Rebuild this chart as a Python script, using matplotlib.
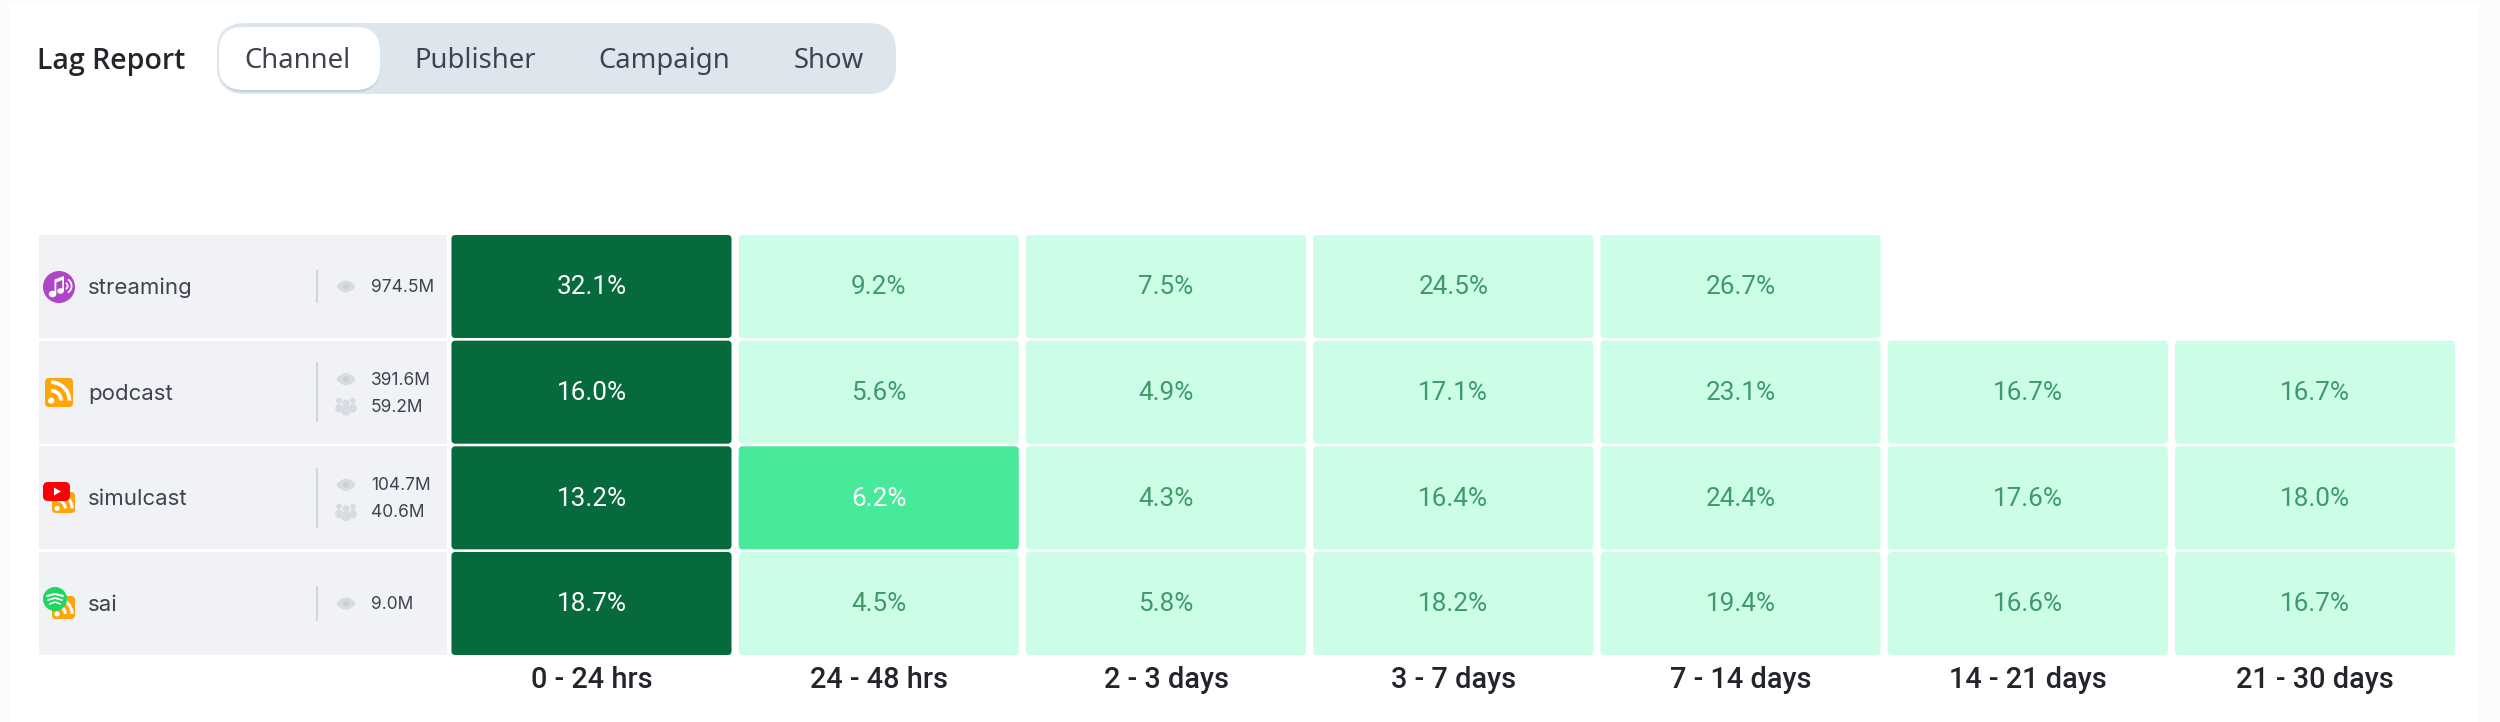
import numpy as np
import matplotlib
matplotlib.use("Agg")
import matplotlib.pyplot as plt
from matplotlib.patches import Circle, Ellipse, FancyBboxPatch, PathPatch, Polygon, Rectangle, Wedge
from matplotlib.path import Path

W, H = 2500, 722

# data
channels = ["streaming", "podcast", "simulcast", "sai"]
buckets = ["0 - 24 hrs", "24 - 48 hrs", "2 - 3 days", "3 - 7 days", "7 - 14 days", "14 - 21 days", "21 - 30 days"]
streaming_lag = [32.1, 9.2, 7.5, 24.5, 26.7, np.nan, np.nan]
podcast_lag = [16.0, 5.6, 4.9, 17.1, 23.1, 16.7, 16.7]
simulcast_lag = [13.2, 6.2, 4.3, 16.4, 24.4, 17.6, 18.0]
sai_lag = [18.7, 4.5, 5.8, 18.2, 19.4, 16.6, 16.7]
# 2 = dark, 1 = mid, 0 = pale
streaming_tier = [2, 0, 0, 0, 0, 0, 0]
podcast_tier = [2, 0, 0, 0, 0, 0, 0]
simulcast_tier = [2, 1, 0, 0, 0, 0, 0]
sai_tier = [2, 0, 0, 0, 0, 0, 0]
views = ["974.5M", "391.6M", "104.7M", "9.0M"]
reach = [None, "59.2M", "40.6M", None]
tabs = ["Channel", "Publisher", "Campaign", "Show"]

lag = np.array([streaming_lag, podcast_lag, simulcast_lag, sai_lag])
tiers = np.array([streaming_tier, podcast_tier, simulcast_tier, sai_tier])

TIER_BG = {2: "#066a3c", 1: "#47e99a", 0: "#ccfde6"}
TIER_FG = {2: "#ffffff", 1: "#ffffff", 0: "#3f9a6a"}
ICON_GRAY = "#d6dce2"
TEXT = "#3d4350"

fig = plt.figure(figsize=(W / 100, H / 100), dpi=100, facecolor="#fcfcfc")

# pixel space for everything around the heatmap
bg = fig.add_axes([0, 0, 1, 1])
bg.set_xlim(0, W)
bg.set_ylim(H, 0)
bg.axis("off")
bg.add_patch(Rectangle((10, 3), 2468, 719, fc="white", ec="none"))

# heatmap axes, one data unit per cell
PITCH_X, PITCH_Y = 287.25, 105.67
left = 591.5 - 0.5 * PITCH_X
top = 286.5 - 0.5 * PITCH_Y
ax = fig.add_axes([left / W, 1 - (top + 4 * PITCH_Y) / H, 7 * PITCH_X / W, 4 * PITCH_Y / H])
ax.set_xlim(-0.5, 6.5)
ax.set_ylim(3.5, -0.5)
ax.patch.set_alpha(0)
for s in ax.spines.values():
    s.set_visible(False)
ax.set_yticks([])
ax.set_xticks(range(len(buckets)))
ax.set_xticklabels(buckets, family="Roboto", weight="medium", fontsize=20.8, color="#22252a")
ax.tick_params(axis="x", length=0, pad=7)

CELL = 0.975
for i in range(lag.shape[0]):
    for j in range(lag.shape[1]):
        if np.isnan(lag[i, j]):
            continue
        ax.add_patch(FancyBboxPatch(
            (j - CELL / 2, i - CELL / 2), CELL, CELL,
            boxstyle=f"round,pad=0,rounding_size={4 / PITCH_X}",
            mutation_aspect=PITCH_X / PITCH_Y,
            fc=TIER_BG[tiers[i, j]], ec="none"))
        ax.text(j, i + 0.008, f"{lag[i, j]:.1f}%", ha="center", va="center",
                family="Roboto", fontsize=18.8, color=TIER_FG[tiers[i, j]])

# header
bg.text(37, 61, "Lag Report", family="Open Sans", weight="semibold", fontsize=20.5, color="#23262b", va="center")
bg.add_patch(FancyBboxPatch((217, 23), 679, 71, boxstyle="round,pad=0,rounding_size=28", fc="#dde6ed", ec="none"))
bg.add_patch(FancyBboxPatch((220, 30), 160, 62, boxstyle="round,pad=0,rounding_size=24", fc="#c3cfd8", ec="none"))
bg.add_patch(FancyBboxPatch((219, 27), 161, 63, boxstyle="round,pad=0,rounding_size=24", fc="white", ec="none"))
for name, cx in zip(tabs, [298, 475, 664, 829]):
    bg.text(cx, 61, name, family="Noto Sans", fontsize=19.8, color=TEXT, ha="center", va="center")


def rss(x0, y0, x1, y1, z=3):
    bg.add_patch(FancyBboxPatch((x0, y0), x1 - x0, y1 - y0, boxstyle="round,pad=0,rounding_size=4",
                                fc="#ffa50a", ec="none", zorder=z))
    s = x1 - x0
    ox, oy = x0 + 0.22 * s, y1 - 0.22 * (y1 - y0)
    bg.add_patch(Circle((ox, oy), 0.11 * s, fc="white", ec="none", zorder=z + 0.1))
    # y axis is inverted, so the top right quarter is 270-360
    for r in (0.42, 0.72):
        bg.add_patch(Wedge((ox, oy), r * s, 270, 360, width=0.13 * s, fc="white", ec="none", zorder=z + 0.1))


def eye(cx, cy):
    w, h = 9.5, 6
    verts = [(cx - w, cy), (cx - 4, cy - h * 1.35), (cx + 4, cy - h * 1.35), (cx + w, cy),
             (cx + 4, cy + h * 1.35), (cx - 4, cy + h * 1.35), (cx - w, cy)]
    codes = [Path.MOVETO, Path.CURVE4, Path.CURVE4, Path.CURVE4, Path.CURVE4, Path.CURVE4, Path.CURVE4]
    bg.add_patch(PathPatch(Path(verts, codes), fc=ICON_GRAY, ec="none", zorder=3))
    bg.add_patch(Circle((cx, cy), 2.8, fc="#c9d0d8", ec="none", zorder=3.1))


def people(cx, cy):
    for dx in (-7, 7):
        bg.add_patch(Circle((cx + dx, cy - 5.5), 2.8, fc=ICON_GRAY, ec="none", zorder=3))
        bg.add_patch(Ellipse((cx + dx, cy + 2), 7.5, 9, fc=ICON_GRAY, ec="none", zorder=3))
    bg.add_patch(Circle((cx, cy - 3), 3.6, fc=ICON_GRAY, ec="none", zorder=3))
    bg.add_patch(Ellipse((cx, cy + 4.5), 10, 10, fc=ICON_GRAY, ec="none", zorder=3))


# row headers
PANEL_X0, PANEL_X1 = 39, 447
sep_spans = [(270, 303), (362, 422), (468, 528), (586, 621)]
for i, channel in enumerate(channels):
    cy = 286.5 + i * PITCH_Y
    bg.add_patch(Rectangle((PANEL_X0, cy - 51.5), PANEL_X1 - PANEL_X0, 103, fc="#f1f2f5", ec="none"))
    bg.text(88, cy + 1.5, channel, family="Inter", fontsize=16, color=TEXT, va="center")
    bg.plot([317, 317], sep_spans[i], color="#d3d6da", lw=1.5, solid_capstyle="butt", zorder=3)
    if reach[i] is None:
        eye(346, cy)
        bg.text(371, cy + 1, views[i], family="Inter", fontsize=12.5, color=TEXT, va="center")
    else:
        eye(346, cy - 13)
        people(346, cy + 14)
        bg.text(371, cy - 12, views[i], family="Inter", fontsize=12.5, color=TEXT, va="center")
        bg.text(371, cy + 15, reach[i], family="Inter", fontsize=12.5, color=TEXT, va="center")

# channel icons
bg.add_patch(Circle((59, 287), 16, fc="#b044c8", ec="none", zorder=3))
bg.add_patch(Ellipse((52.5, 294), 7.5, 6.5, fc="white", ec="none", zorder=4))
bg.add_patch(Ellipse((60.5, 291), 6.5, 5.5, fc="white", ec="none", zorder=4))
bg.add_patch(Polygon([(54.5, 294), (54.5, 279.5), (64, 276), (64, 291), (62.3, 291), (62.3, 280),
                      (56.3, 282.5), (56.3, 294)], fc="white", ec="none", zorder=4))
for r in (4.5, 8.5):
    bg.add_patch(Wedge((64, 286), r, 300, 60, width=1.8, fc="white", ec="none", zorder=4))
rss(45, 378, 73, 407)
rss(52, 492, 75, 513)
bg.add_patch(FancyBboxPatch((43, 482), 27, 19, boxstyle="round,pad=0,rounding_size=5", fc="#fb0007", ec="none", zorder=4))
bg.add_patch(Polygon([(54, 487.5), (54, 495.5), (61, 491.5)], fc="white", ec="none", zorder=4.1))
rss(52, 596, 75, 619)
bg.add_patch(Circle((55, 599), 12, fc="#1ed760", ec="none", zorder=4))
for dy, half, lw in [(-3, 8, 1.5), (1, 7, 1.3), (5, 5.5, 1.1)]:
    xs = np.array([55 - half, 55, 55 + half])
    bg.plot(xs, [599 + dy, 599 + dy - 2, 599 + dy], color="white", lw=lw, zorder=4.1, solid_capstyle="round")

fig.savefig("out.png", dpi=100, facecolor=fig.get_facecolor())
